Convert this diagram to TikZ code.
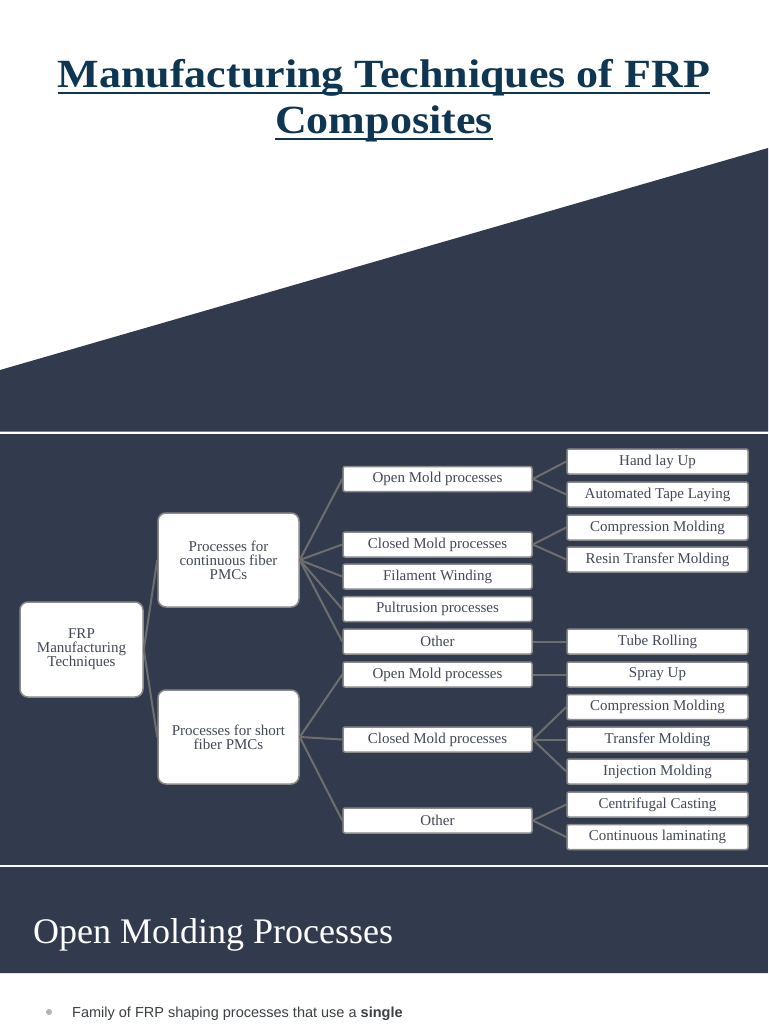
\documentclass[tikz,border=0pt]{standalone}
\usepackage{fontspec}
\setmainfont{Liberation Serif}
\newfontfamily\bodysans{Liberation Sans}

\definecolor{slate}{HTML}{323A4D}
\definecolor{titleblue}{HTML}{0E3551}
\definecolor{boxtext}{HTML}{434856}
\definecolor{edgegray}{HTML}{6E6E6E}
\definecolor{framegray}{HTML}{8A8A8A}
\definecolor{bodygray}{HTML}{3C4043}

\begin{document}
\begin{tikzpicture}[
    x=1pt, y=-1pt,
    title/.style={text=titleblue, font=\bfseries\fontsize{40}{46}\selectfont, xscale=1.1, inner sep=0pt, anchor=base},
    titleline/.style={draw=titleblue, line width=2pt},
    link/.style={draw=edgegray, line width=2pt},
    box/.style={draw=framegray, fill=white, line width=1.5pt, text=boxtext, font=\fontsize{15}{14}\selectfont, align=center, inner sep=0pt},
    rootbox/.style={box, rounded corners=8pt, minimum width=123pt, minimum height=95pt},
    group/.style={box, rounded corners=8pt, minimum width=141pt, minimum height=94pt},
    process/.style={box, rounded corners=2pt, minimum width=189pt, minimum height=25pt},
    method/.style={box, rounded corners=2pt, minimum width=181pt, minimum height=25pt}
]
\useasboundingbox (0,0) rectangle (768,1024);
\fill[white] (0,0) rectangle (768,1024);
\fill[slate] (0,370) -- (768,148) -- (768,431.5) -- (0,431.5) -- cycle;
\fill[slate] (0,433.5) rectangle (768,864.5);
\fill[slate] (0,866.5) rectangle (768,973);
\draw[gray!25] (0,973.5) -- (768,973.5);

\node[title] (title1) at (384,88) {Manufacturing Techniques of FRP};
\node[title] (title2) at (384,134) {Composites};
\draw[titleline] ([yshift=-5pt]title1.base west) -- ([yshift=-5pt]title1.base east);
\draw[titleline] ([yshift=-5pt]title2.base west) -- ([yshift=-5pt]title2.base east);

\node[rootbox] (frp) at (81.5,649.5) {FRP\\Manufacturing\\Techniques};
\node[group] (cont) at (228.5,560) {Processes for\\continuous fiber\\PMCs};
\node[group] (short) at (228.5,737) {Processes for short\\fiber PMCs};
\draw[link] (frp.east) -- (cont.west);
\draw[link] (frp.east) -- (short.west);

\node[process] (openA) at (437.5,479) {Open Mold processes};
\node[process] (closedA) at (437.5,544.5) {Closed Mold processes};
\node[process] (filament) at (437.5,576.5) {Filament Winding};
\node[process] (pultrusion) at (437.5,609) {Pultrusion processes};
\node[process] (otherA) at (437.5,641.5) {Other};
\draw[link] (cont.east) -- (openA.west);
\draw[link] (cont.east) -- (closedA.west);
\draw[link] (cont.east) -- (filament.west);
\draw[link] (cont.east) -- (pultrusion.west);
\draw[link] (cont.east) -- (otherA.west);

\node[process] (openB) at (437.5,674.5) {Open Mold processes};
\node[process] (closedB) at (437.5,739.5) {Closed Mold processes};
\node[process] (otherB) at (437.5,820.5) {Other};
\draw[link] (short.east) -- (openB.west);
\draw[link] (short.east) -- (closedB.west);
\draw[link] (short.east) -- (otherB.west);

\node[method] (handlay) at (657.5,461.5) {Hand lay Up};
\node[method] (tape) at (657.5,494.5) {Automated Tape Laying};
\node[method] (compA) at (657.5,527.5) {Compression Molding};
\node[method] (rtm) at (657.5,559.5) {Resin Transfer Molding};
\node[method] (tube) at (657.5,641.5) {Tube Rolling};
\draw[link] (openA.east) -- (handlay.west);
\draw[link] (openA.east) -- (tape.west);
\draw[link] (closedA.east) -- (compA.west);
\draw[link] (closedA.east) -- (rtm.west);
\draw[link] (otherA.east) -- (tube.west);

\node[method] (spray) at (657.5,674.5) {Spray Up};
\node[method] (compB) at (657.5,707) {Compression Molding};
\node[method] (transfer) at (657.5,739.5) {Transfer Molding};
\node[method] (injection) at (657.5,771.5) {Injection Molding};
\node[method] (centrifugal) at (657.5,804.5) {Centrifugal Casting};
\node[method] (laminating) at (657.5,837) {Continuous laminating};
\draw[link] (openB.east) -- (spray.west);
\draw[link] (closedB.east) -- (compB.west);
\draw[link] (closedB.east) -- (transfer.west);
\draw[link] (closedB.east) -- (injection.west);
\draw[link] (otherB.east) -- (centrifugal.west);
\draw[link] (otherB.east) -- (laminating.west);

\node[anchor=base west, inner sep=0pt, text=white, font=\fontsize{36}{40}\selectfont] (heading) at (33,943) {Open Molding Processes};
\fill[gray!60] (49,1012) circle (3);
\node[anchor=base west, inner sep=0pt, text=bodygray, font=\bodysans\fontsize{14.5}{16}\selectfont] (bullet) at (72,1017) {Family of FRP shaping processes that use a \textbf{single}};
\end{tikzpicture}
\end{document}
